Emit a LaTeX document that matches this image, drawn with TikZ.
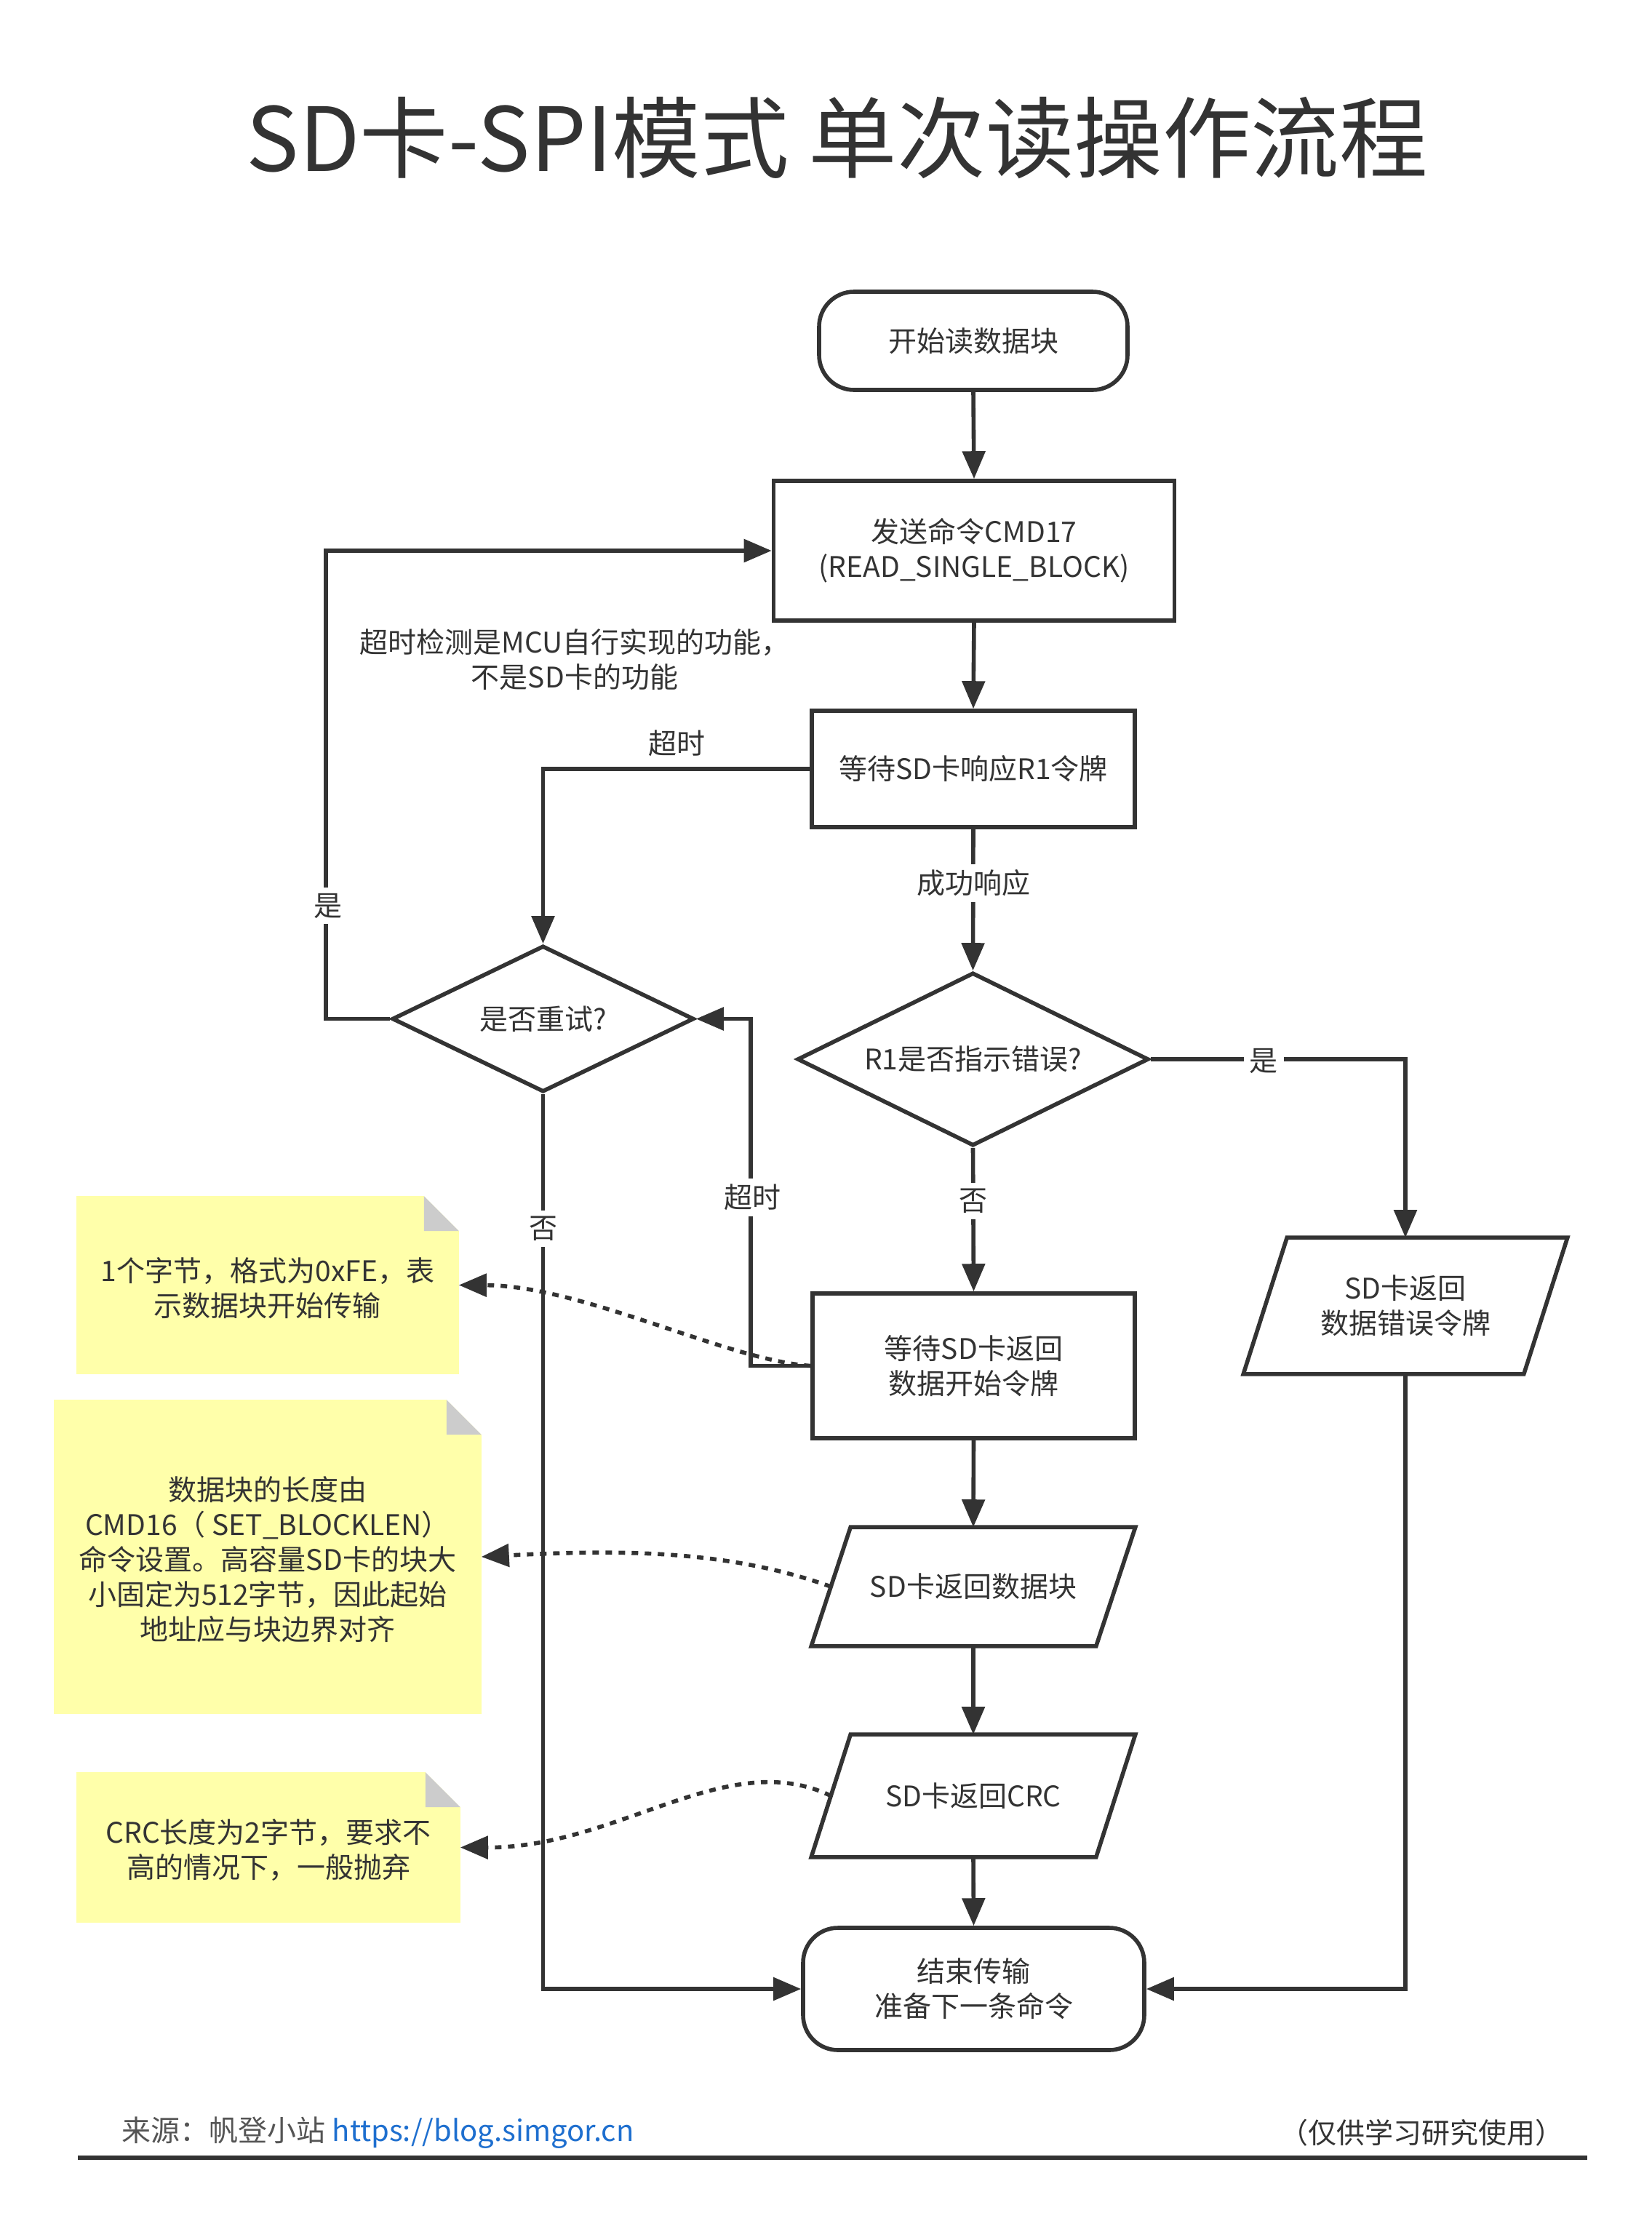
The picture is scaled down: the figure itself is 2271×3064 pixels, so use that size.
\documentclass[tikz,border=0pt]{standalone}
\usepackage{fontspec}
\setmainfont{Noto Sans CJK SC}
\usetikzlibrary{arrows.meta,shapes.geometric,calc}
\definecolor{ink}{HTML}{333333}
\definecolor{notey}{HTML}{FFFFAA}
\definecolor{foldg}{HTML}{CCCCCC}
\definecolor{linkb}{HTML}{1E6FCF}
\definecolor{footg}{HTML}{555555}
\tikzset{
  txt/.style={font=\fontsize{9.75pt}{12pt}\selectfont, text=ink, align=center},
  box/.style={txt, draw=ink, rectangle, inner sep=0pt, line width=1.4pt, fill=white},
  term/.style={box, rounded corners=12pt},
  dec/.style={txt, draw=ink, diamond, shape aspect=2, inner sep=0pt, line width=1.4pt, fill=white},
  pbox/.style={txt, rectangle, inner sep=0pt},
  pline/.style={draw=ink, line width=1.4pt, line join=miter},
  arr/.style={-{Triangle[length=9.5pt,width=7.75pt]}, line width=1.4pt, draw=ink},
  dots/.style={arr, dash pattern=on 2.25pt off 2.25pt},
  lbl/.style={txt, fill=white, inner sep=2pt},
  notearea/.style={rectangle, inner sep=0pt},
}
\begin{document}
\begin{tikzpicture}[x=0.25pt,y=-0.25pt]
\fill[white] (0,0) rectangle (2271,3064);
\useasboundingbox (0,0) rectangle (2271,3064);

% title
\node[text=ink, font=\fontsize{30.4pt}{36pt}\selectfont] (title) at (1151,190) {SD卡-SPI模式 单次读操作流程};

% notes
\path node[notearea, minimum width=131pt, minimum height=60.75pt] (note1) at (368,1766.5) {};
\fill[notey] (note1.north west) -- ([xshift=-12pt]note1.north east) -- ([yshift=-12pt]note1.north east) -- (note1.south east) -- (note1.south west) -- cycle;
\fill[foldg] ([xshift=-12pt]note1.north east) -- ([xshift=-12pt,yshift=-12pt]note1.north east) -- ([yshift=-12pt]note1.north east) -- cycle;
\node[txt] (note1t) at ([yshift=-1pt]note1.center) {1个字节，格式为0xFE，表\\示数据块开始传输};

\path node[notearea, minimum width=146.5pt, minimum height=107.5pt] (note2) at (368,2140) {};
\fill[notey] (note2.north west) -- ([xshift=-12pt]note2.north east) -- ([yshift=-12pt]note2.north east) -- (note2.south east) -- (note2.south west) -- cycle;
\fill[foldg] ([xshift=-12pt]note2.north east) -- ([xshift=-12pt,yshift=-12pt]note2.north east) -- ([yshift=-12pt]note2.north east) -- cycle;
\node[txt] (note2t) at ([yshift=-1pt]note2.center) {数据块的长度由\\CMD16（ SET\_BLOCKLEN）\\命令设置。高容量SD卡的块大\\小固定为512字节，因此起始\\地址应与块边界对齐};

\path node[notearea, minimum width=131.5pt, minimum height=51.25pt] (note3) at (369,2539.5) {};
\fill[notey] (note3.north west) -- ([xshift=-12pt]note3.north east) -- ([yshift=-12pt]note3.north east) -- (note3.south east) -- (note3.south west) -- cycle;
\fill[foldg] ([xshift=-12pt]note3.north east) -- ([xshift=-12pt,yshift=-12pt]note3.north east) -- ([yshift=-12pt]note3.north east) -- cycle;
\node[txt] (note3t) at ([yshift=-1pt]note3.center) {CRC长度为2字节，要求不\\高的情况下，一般抛弃};

% main nodes
\node[term, minimum width=106pt, minimum height=33.75pt] (start) at (1338,468.5) {开始读数据块};
\node[box, minimum width=137.75pt, minimum height=48pt] (cmd) at (1339,757) {发送命令CMD17\\(READ\_SINGLE\_BLOCK)};
\node[box, minimum width=111pt, minimum height=40pt] (r1wait) at (1338,1057) {等待SD卡响应R1令牌};
\node[dec, minimum width=103.75pt, minimum height=50.25pt] (retry) at (746.5,1400.5) {是否重试?};
\node[dec, minimum width=120.75pt, minimum height=59.5pt] (r1err) at (1337.5,1456) {R1是否指示错误?};
\node[box, minimum width=110.75pt, minimum height=49.75pt] (waitdata) at (1338.5,1877.5) {等待SD卡返回\\数据开始令牌};
\node[pbox, minimum width=111pt, minimum height=46.5pt] (errpar) at (1932,1795) {SD卡返回\\数据错误令牌};
\draw[pline] (errpar.south west) -- ([xshift=15pt]errpar.north west) -- (errpar.north east) -- ([xshift=-15pt]errpar.south east) -- cycle;
\node[pbox, minimum width=111pt, minimum height=40.5pt] (datapar) at (1338,2181) {SD卡返回数据块};
\draw[pline] (datapar.south west) -- ([xshift=13.5pt]datapar.north west) -- (datapar.north east) -- ([xshift=-13.5pt]datapar.south east) -- cycle;
\node[pbox, minimum width=111pt, minimum height=41.75pt] (crcpar) at (1338,2468.5) {SD卡返回CRC};
\draw[pline] (crcpar.south west) -- ([xshift=13.5pt]crcpar.north west) -- (crcpar.north east) -- ([xshift=-13.5pt]crcpar.south east) -- cycle;
\node[term, minimum width=117.25pt, minimum height=42pt] (end) at (1338.5,2734) {结束传输\\准备下一条命令};

% annotation
\node[txt] (timeoutnote) at (790,907) {超时检测是MCU自行实现的功能，\\不是SD卡的功能};

% connectors
\draw[arr] (start.south) -- (cmd.north);
\draw[arr] (cmd.south) -- (r1wait.north);
\draw[arr] (r1wait.west) -| (retry.north);
\draw[arr] (r1wait.south) -- (r1err.north);
\draw[arr] (retry.west) -- ++(-88,0) |- (cmd.west);
\draw[arr] (retry.south) |- (end.west);
\draw[arr] (r1err.east) -| (errpar.north);
\draw[arr] (r1err.south) -- (waitdata.north);
\draw[arr] (waitdata.west) -- ++(-82,0) |- (retry.east);
\draw[arr] (waitdata.south) -- (datapar.north);
\draw[arr] (datapar.south) -- (crcpar.north);
\draw[arr] (crcpar.south) -- (end.north);
\draw[arr] (errpar.south) |- (end.east);

% dotted note links
\draw[dots] (waitdata.west) .. controls (1000,1870) and (800,1767) .. (note1.east);
\draw[dots] ([xshift=6.75pt]datapar.west) .. controls (1000,2130) and (850,2130) .. (note2.east);
\draw[dots] ([xshift=6.75pt]crcpar.west) .. controls (1000,2400) and (850,2540) .. (note3.east);

% edge labels
\node[txt] (lbltimeout1) at (930,1022) {超时};
\node[lbl] (lblok) at (1338,1214) {成功响应};
\node[lbl] (lblyes1) at (451,1245) {是};
\node[lbl] (lblno1) at (747,1689) {否};
\node[lbl] (lblyes2) at (1737,1458) {是};
\node[lbl] (lblno2) at (1338,1651) {否};
\node[lbl] (lbltimeout2) at (1034,1646) {超时};

% footer
\node[anchor=west, text=footg, font=\fontsize{10pt}{12pt}\selectfont, inner sep=0pt] (src) at (167,2932) {来源：帆登小站 \textcolor{linkb}{https://blog.simgor.cn}};
\node[anchor=east, text=ink, font=\fontsize{9.75pt}{12pt}\selectfont, inner sep=0pt] (use) at (2150,2932) {（仅供学习研究使用）};
\coordinate (footl) at (107,2966);
\coordinate (footr) at (2182,2966);
\draw[draw=ink, line width=1.6pt] (footl) -- (footr);
\end{tikzpicture}
\end{document}
